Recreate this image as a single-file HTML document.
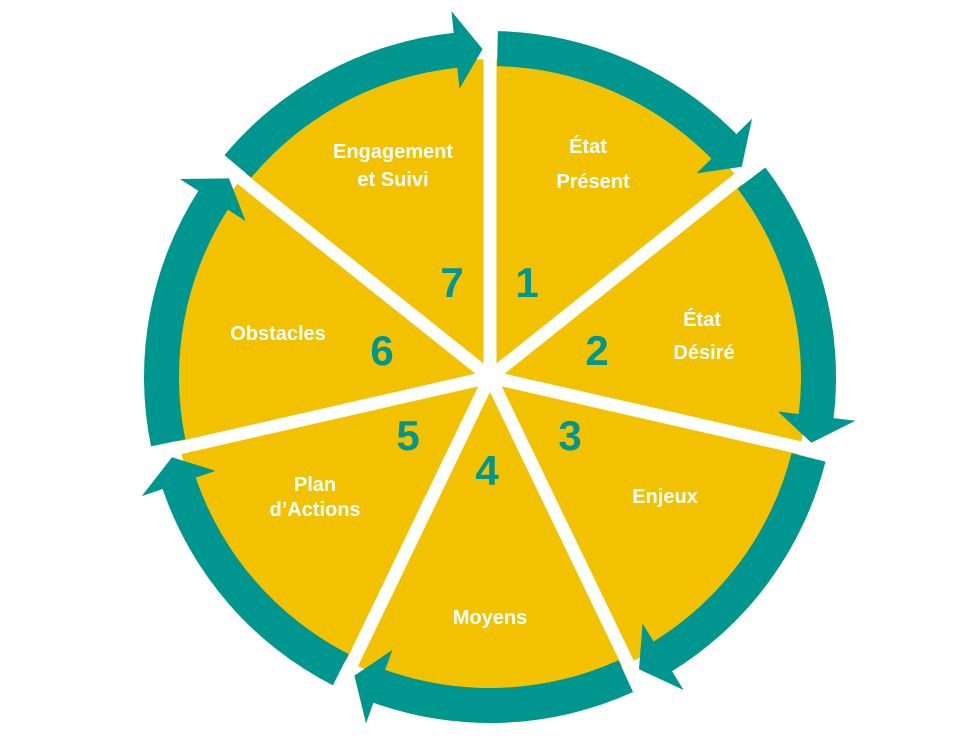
<!DOCTYPE html>
<html><head><meta charset="utf-8"><style>
html,body{margin:0;padding:0;background:#fff;width:980px;height:747px;overflow:hidden;}
svg{display:block;}
.l{font-family:"Liberation Sans",sans-serif;font-weight:bold;font-size:20px;fill:#fff;text-anchor:middle;}
.n{font-family:"Liberation Sans",sans-serif;font-weight:bold;font-size:42px;fill:#009690;text-anchor:middle;}
</style></head><body>
<svg width="980" height="747" viewBox="0 0 980 747">
<defs>
<path id="seg" fill="#009690" d="M 7.85 -345.91 A 346 346 0 0 1 246.39 -242.93 L 262.05 -258.37 L 251.77 -210.25 L 206.51 -203.61 L 221.46 -218.35 A 311 311 0 0 0 7.06 -310.92 Z"/>
<line id="gap" x1="0" y1="0" x2="0" y2="-352" stroke="#fff" stroke-width="13"/>
</defs>
<g transform="translate(490,377)">
<circle cx="0" cy="0" r="318" fill="#F2C200"/>
<use href="#gap" transform="rotate(0)"/>
<use href="#gap" transform="rotate(51.4286)"/>
<use href="#gap" transform="rotate(102.857)"/>
<use href="#gap" transform="rotate(154.286)"/>
<use href="#gap" transform="rotate(205.714)"/>
<use href="#gap" transform="rotate(257.143)"/>
<use href="#gap" transform="rotate(308.571)"/>
<circle cx="0" cy="0" r="8" fill="#fff"/>
<use href="#seg" transform="rotate(0)"/>
<use href="#seg" transform="rotate(51.4286)"/>
<use href="#seg" transform="rotate(102.857)"/>
<use href="#seg" transform="rotate(154.286)"/>
<use href="#seg" transform="rotate(205.714)"/>
<use href="#seg" transform="rotate(257.143)"/>
<use href="#seg" transform="rotate(308.571)"/>
</g>
<text class="l" x="393" y="158">Engagement</text>
<text class="l" x="393" y="186">et Suivi</text>
<text class="l" x="588" y="153">État</text>
<text class="l" x="593" y="188">Présent</text>
<text class="l" x="702" y="326">État</text>
<text class="l" x="704" y="359">Désiré</text>
<text class="l" x="665" y="503">Enjeux</text>
<text class="l" x="490" y="624">Moyens</text>
<text class="l" x="315" y="491">Plan</text>
<text class="l" x="315" y="516">d’Actions</text>
<text class="l" x="278" y="340">Obstacles</text>
<text class="n" x="452" y="297">7</text>
<text class="n" x="527" y="297">1</text>
<text class="n" x="597" y="365">2</text>
<text class="n" x="570" y="450">3</text>
<text class="n" x="487" y="485">4</text>
<text class="n" x="408" y="450">5</text>
<text class="n" x="382" y="365">6</text>
</svg>
</body></html>
